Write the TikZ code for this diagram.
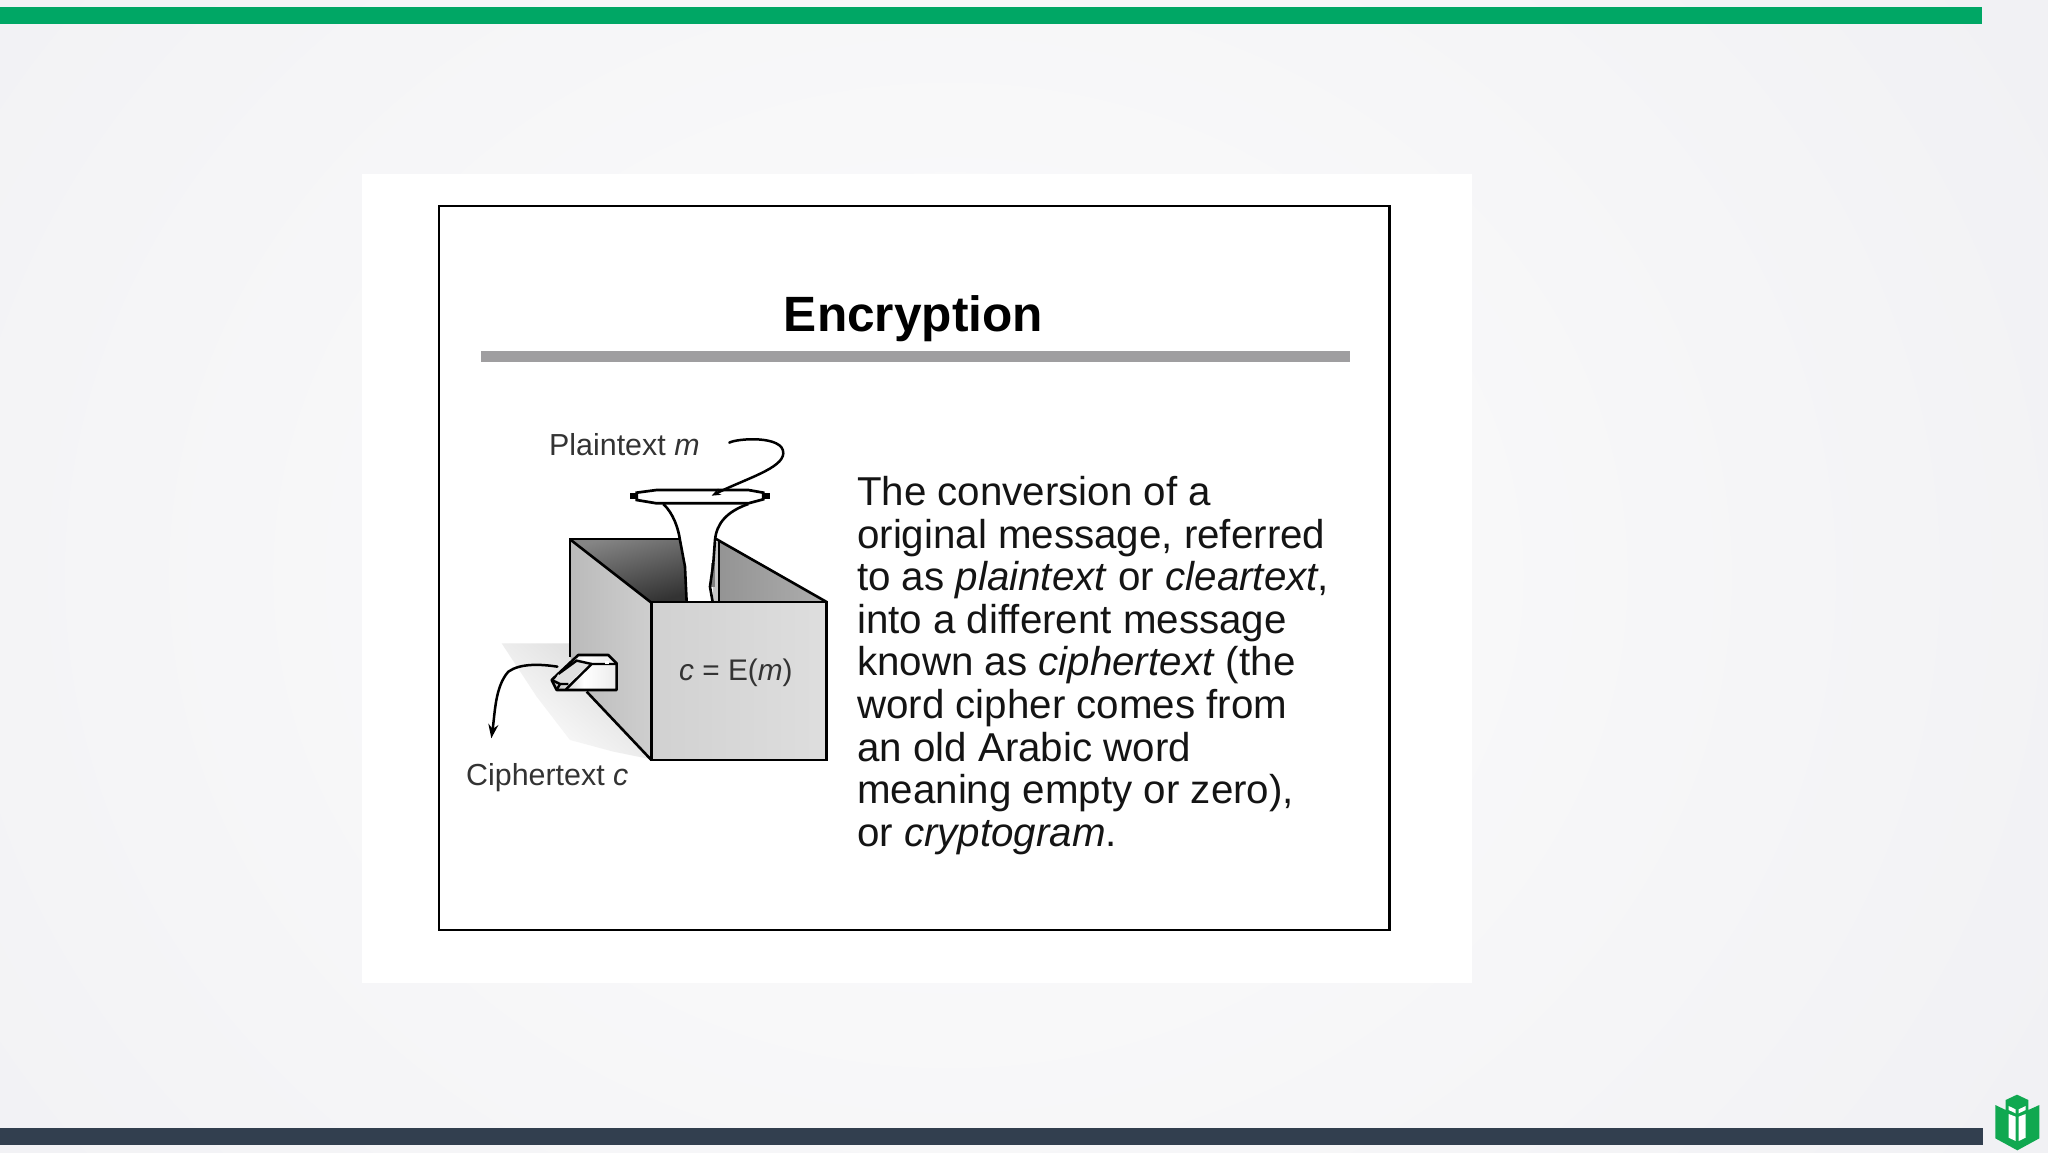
\documentclass[tikz,border=0pt]{standalone}
\usepackage{fontspec}
\setmainfont{Liberation Sans}
\usetikzlibrary{arrows.meta}
\definecolor{bgedge}{HTML}{F1F1F4}
\definecolor{bgmid}{HTML}{FDFDFD}
\definecolor{barG}{HTML}{00A765}
\definecolor{barD}{HTML}{323F4F}
\definecolor{logoG}{HTML}{10A850}
\definecolor{ruleG}{HTML}{9F9EA0}
\tikzset{
  ink/.style={draw=black,line width=2.6pt,line join=miter},
  wire/.style={draw=black,line width=2.5pt,line cap=round,line join=round},
  label/.style={inner sep=0pt,anchor=base west,text=black!80,font=\fontsize{30.4}{34}\selectfont},
}
\begin{document}
\begin{tikzpicture}[x=1pt,y=-1pt]
\useasboundingbox (0,0) rectangle (2048,1152);
% background
\shade[inner color=bgmid,outer color=bgedge] (-300,-500) rectangle (2200,1650);
% bars
\fill[barG] (0,6.5) rectangle (1982,24);
\fill[barD] (0,1128) rectangle (1982.5,1145);
% logo
\begin{scope}[shift={(1940,1060)},x=0.3333pt,y=-0.3333pt]
  \fill[logoG] (166,135)--(197,150)--(197,120)--(231,104)--(265,120)--(265,150)--(298,135)--(298,235)--(232,271)--(166,235)--cycle;
  \fill[white] (206,138)--(227,148)--(227,160)--(206,150)--cycle;
  \fill[white] (236,148)--(257,138)--(257,150)--(236,160)--cycle;
  \fill[white] (206,162)--(227,170)--(227,243)--(206,233)--cycle;
  \fill[white] (236,170)--(257,162)--(257,233)--(236,243)--cycle;
\end{scope}
% white panel and frame
\fill[white] (362,173.5) rectangle (1472,983);
\draw[black,line width=2.6pt] (439,206) rectangle (1389.5,930);
\node[inner sep=0pt,anchor=base,font=\fontsize{49.6}{54}\selectfont\bfseries] (title) at (913.5,331) {Encryption};
\fill[ruleG] (481,351) rectangle (1350,362);
% illustration, in 3x crop units
\begin{scope}[shift={(440,400)},x=0.3333pt,y=-0.3333pt]
  % shadow
  \shade[top color=black!15,bottom color=white,shading angle=-40]
     (185,730)--(392,730)--(634,1078)--(520,1055)--(390,1020)--(290,890)--cycle;
  % back wall
  \shade[top color=black!48,bottom color=black!80,shading angle=15] (392,417)--(725,417)--(740,606)--(632,606)--cycle;
  \shade[left color=black!42,right color=black!32] (837,420)--(1160,606)--(837,606)--cycle;
  \fill[black!22] (818,425) rectangle (837,606);
  % left face
  \shade[left color=black!27,right color=black!19] (390,418)--(634,606)--(634,1080)--(440,875)--(390,770)--cycle;
  % front face
  \shade[left color=black!18,right color=black!13] (634,606) rectangle (1160,1080);
  % funnel
  \fill[white] (670,312) .. controls (700,345) and (715,385) .. (720,420)--(735,500)--(740,606)--(818,606)--(810,560)--(820,490)--(825,420) .. controls (830,370) and (860,335) .. (925,312)--cycle;
  \fill[black!50] (812,490) rectangle (825,560);
  \draw[ink] (670,312) .. controls (700,340) and (715,385) .. (720,420) -- (735,500) -- (740,606);
  \draw[ink] (925,312) .. controls (860,335) and (830,370) .. (825,420) -- (820,490) -- (810,560) -- (818,606);
  \draw[ink] (837,420) -- (837,606);
  \fill[white,draw=black,line width=2.7pt] (590,278)--(650,270)--(925,270)--(970,278)--(970,298)--(925,310)--(650,310)--(590,300)--cycle;
  \fill[black] (570,280) rectangle (590,298);
  \fill[black] (970,280) rectangle (990,298);
  % box edges
  \draw[ink] (720,417)--(390,417)--(390,770);
  \draw[ink] (390,418)--(634,608);
  \draw[ink] (825,415)--(1160,606);
  \draw[ink] (440,875)--(634,1080);
  \draw[ink] (634,606) rectangle (1160,1080);
  % slot
  \shade[left color=black!25,right color=black!8,middle color=white,draw=black,line width=2.6pt,line join=round]
     (350,870)--(530,870)--(530,790)--(505,765)--(415,765)--(335,840)--cycle;
  \fill[black!12] (355,822)--(410,782)--(452,792)--(380,852)--(345,840)--cycle;
  \draw[black,line width=2.4pt] (530,792)--(455,792)--(378,868);
  \draw[black,line width=2.4pt] (335,840)--(360,852)--(385,852);
  \draw[black,line width=2.4pt] (355,822)--(410,782)--(455,792);
  \draw[black,line width=2.4pt] (350,870)--(360,852);
  \fill[white] (496,782) rectangle (506,791);
  % wires
  \coordinate (plainStart) at (868,128);
  \coordinate (plainEnd) at (815,287);
  \coordinate (cipherStart) at (352,800);
  \coordinate (cipherEnd) at (154,1015);
  \draw[wire,-{Stealth[length=9pt,width=7pt]}] (plainStart) .. controls (890,115) and (1032,105) .. (1030,160)
     .. controls (1028,205) and (920,235) .. (plainEnd);
  \draw[wire,-{Stealth[length=14pt,width=10pt]}] (cipherStart) .. controls (300,792) and (240,790) .. (205,815)
     .. controls (165,860) and (165,940) .. (cipherEnd);
\end{scope}
% labels
\node[label] (plain) at (549,455) {Plaintext \textit{m}};
\node[label] (cipher) at (466,785) {Ciphertext \textit{c}};
\node[label,font=\fontsize{29.8}{32}\selectfont] (eqn) at (679,680) {\textit{c} = E(\textit{m})};
% body
\node[inner sep=0pt,anchor=north west,align=left,text=black!92,font=\fontsize{40.3}{42.6}\selectfont] (body) at (857,476)
{The conversion of a\\original message, referred\\to as \textit{plaintext} or \textit{cleartext},\\into a different message\\known as \textit{ciphertext} (the\\word cipher comes from\\an old Arabic word\\meaning empty or zero),\\or \textit{cryptogram}.};
\end{tikzpicture}
\end{document}
